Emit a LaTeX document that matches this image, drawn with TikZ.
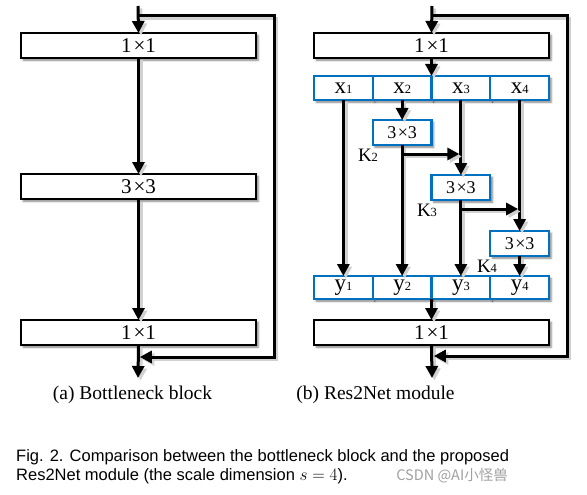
\documentclass[tikz,border=0pt]{standalone}
\usepackage{fontspec}
\setmainfont{Liberation Serif}
\newfontfamily\capfont{Liberation Sans}
\newfontfamily\cjkfont{Noto Sans CJK SC}
\usetikzlibrary{arrows.meta,shadows.blur,calc}
\definecolor{boxblue}{RGB}{0,112,192}
\definecolor{shadecol}{gray}{0.82}
\definecolor{markgray}{RGB}{160,160,160}
\newcommand{\labsub}[2]{#1{\fontsize{12.5}{12.5}\selectfont #2}}
\begin{document}
\begin{tikzpicture}[x=1pt,y=-1pt,
  conn/.style={line width=3pt,-{Triangle[length=12pt,width=12pt]},
    preaction={draw=shadecol,line width=3.5pt,transform canvas={xshift=2.5pt,yshift=-2.5pt}}},
  wbox/.style={draw,line width=2.1pt,fill=white,minimum width=235pt,minimum height=25pt,
    inner sep=0pt,outer sep=0pt,font=\fontsize{21}{21}\selectfont,
    blur shadow={shadow xshift=2.2pt,shadow yshift=-2.2pt,shadow blur radius=2pt,shadow opacity=50}},
  cell/.style={draw=boxblue,line width=2.1pt,fill=white,minimum width=58.75pt,minimum height=24pt,
    inner sep=0pt,outer sep=0pt,font=\fontsize{23}{23}\selectfont,
    blur shadow={shadow xshift=2.2pt,shadow yshift=-2.2pt,shadow blur radius=2pt,shadow opacity=50}},
  kbox/.style={draw=boxblue,line width=2.1pt,fill=white,minimum width=58.75pt,minimum height=25pt,
    inner sep=0pt,outer sep=0pt,font=\fontsize{18}{18}\selectfont,
    blur shadow={shadow xshift=2.2pt,shadow yshift=-2.2pt,shadow blur radius=2pt,shadow opacity=50}},
  klab/.style={font=\fontsize{19}{19}\selectfont,inner sep=0pt},
  sublab/.style={font=\fontsize{19.5}{19.5}\selectfont,inner sep=0pt}
]
\useasboundingbox (0,0) rectangle (587,495);

% ---------- (a) bottleneck ----------
\coordinate (Lin) at (138,6);
\coordinate (Ltap) at (138,16);
\coordinate (Lrt) at (274,357);
\coordinate (Ljoin) at (139.8,357);
\coordinate (Lout) at (138,378);
\node[wbox] (L1) at (138.5,45.5) {1\kern2pt×1};
\node[wbox] (L3) at (138.5,186.5) {3\kern2pt×3};
\node[wbox] (L1b) at (138.5,332.5) {1\kern2pt×1};
\draw[conn] (Lin) -- (L1.north);
\draw[conn] (L1.south) -- (L3.north);
\draw[conn] (L3.south) -- (L1b.north);
\draw[conn] (L1b.south) -- (Lout);
\draw[conn] (Ltap) -| (Lrt) -- (Ljoin);

% ---------- (b) Res2Net ----------
\coordinate (Rin) at (432,6);
\coordinate (Rtap) at (432,16);
\coordinate (Rrt) at (567,356);
\coordinate (Rjoin) at (433.8,356);
\coordinate (Rout) at (432,378);
\node[wbox] (R1) at (431.5,45.5) {1\kern2pt×1};
\node[cell] (x1) at (343.375,88) {\labsub{x}{1}};
\node[cell] (x2) at (402.125,88) {\labsub{x}{2}};
\node[cell] (x3) at (460.875,88) {\labsub{x}{3}};
\node[cell] (x4) at (519.625,88) {\labsub{x}{4}};
\node[kbox] (K2) at (402.125,132.5) {3\kern1.5pt×3};
\node[kbox] (K3) at (460.875,187.5) {3\kern1.5pt×3};
\node[kbox] (K4) at (519.625,243.5) {3\kern1.5pt×3};
\node[cell,minimum height=23pt] (y1) at (343.375,287.5) {\labsub{y}{1}};
\node[cell,minimum height=23pt] (y2) at (402.125,287.5) {\labsub{y}{2}};
\node[cell,minimum height=23pt] (y3) at (460.875,287.5) {\labsub{y}{3}};
\node[cell,minimum height=23pt] (y4) at (519.625,287.5) {\labsub{y}{4}};
\node[wbox] (R1b) at (431.5,332.5) {1\kern2pt×1};
\node[klab] (k2l) at (368,155) {\labsub{K}{2}};
\node[klab] (k3l) at (427,210) {\labsub{K}{3}};
\node[klab] (k4l) at (487,266) {\labsub{K}{4}};
\coordinate (b2) at (402.125,154);
\coordinate (b3) at (460.875,209);

\draw[conn] (Rin) -- (R1.north);
\draw[conn] (R1.south) -- (x2.north east);
\draw[conn] (x1.south) -- (y1.north);
\draw[conn] (x2.south) -- (K2.north);
\draw[conn] (K2.south) -- (y2.north);
\draw[conn] (x3.south) -- (K3.north);
\draw[conn] (K3.south) -- (y3.north);
\draw[conn] (x4.south) -- (K4.north);
\draw[conn] (K4.south) -- (y4.north);
\draw[conn] (b2) -- ($(b2 -| K3.north)+(-1.5,0)$);
\draw[conn] (b3) -- ($(b3 -| K4.north)+(-1.5,0)$);
\draw[conn] (y2.south east) -- (R1b.north);
\draw[conn] (R1b.south) -- (Rout);
\draw[conn] (Rtap) -| (Rrt) -- (Rjoin);

% ---------- labels ----------
\node[sublab] (capa) at (132.5,395) {(a) Bottleneck block};
\node[sublab] (capb) at (375.5,395) {(b) Res2Net module};
\node[anchor=base west,inner sep=0pt,font=\capfont\fontsize{16.5}{16.5}\selectfont] (cap1) at (16,461.7)
  {Fig. 2. Comparison between the bottleneck block and the proposed};
\node[anchor=base west,inner sep=0pt,font=\capfont\fontsize{16.5}{16.5}\selectfont] (cap2) at (16,480)
  {Res2Net module (the scale dimension $s=4$).};
\node[anchor=base east,inner sep=0pt,text=markgray,font=\cjkfont\fontsize{14.5}{14.5}\selectfont] (wm) at (508,480)
  {CSDN @AI小怪兽};
\end{tikzpicture}
\end{document}
